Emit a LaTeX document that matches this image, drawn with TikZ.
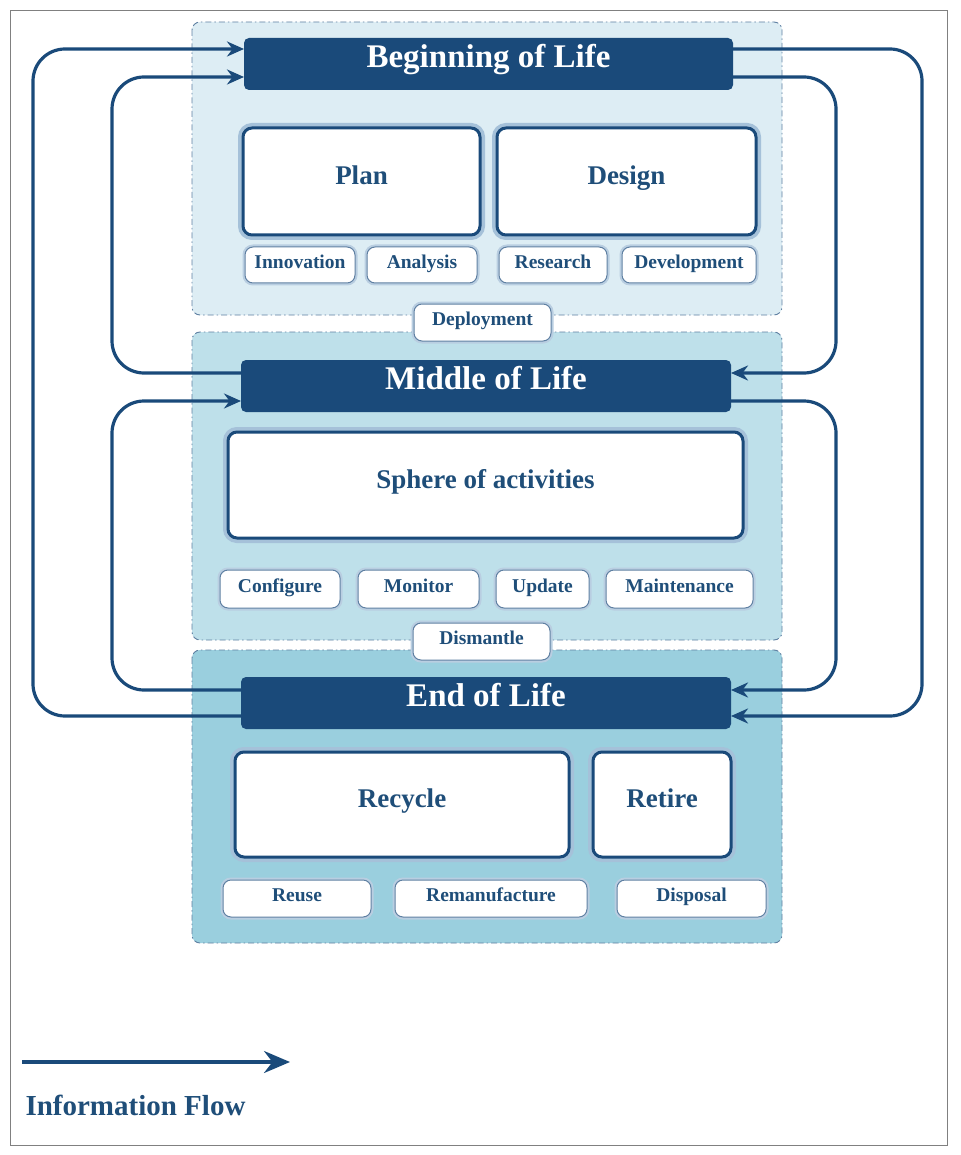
\documentclass[tikz,border=0pt]{standalone}
\usepackage{fontspec}
\setmainfont{Liberation Serif}
\usetikzlibrary{arrows.meta}
\definecolor{navy}{HTML}{1A4A7A}
\definecolor{txt}{HTML}{1F4E79}
\definecolor{bolc}{HTML}{DDEDF4}
\definecolor{molc}{HTML}{BEE0EA}
\definecolor{eolc}{HTML}{9ACFDE}
\definecolor{glow}{HTML}{7FA6C8}
\begin{document}
\begin{tikzpicture}[x=1pt,y=-1pt,
 panel/.style={draw=navy!70,dash pattern=on 6pt off 3pt on 1.5pt off 3pt,line width=0.9pt,rounded corners=8},
 bar/.style={fill=navy,rounded corners=5,text=white,font=\bfseries\fontsize{33}{36}\selectfont,text height=0.68em,text depth=0pt},
 box/.style={fill=white,rounded corners=9,text=txt,font=\bfseries\fontsize{27}{30}\selectfont,text height=0.68em,text depth=0pt,
   preaction={draw=glow!70,line width=10pt,rounded corners=9},draw=navy,line width=3pt},
 pill/.style={fill=white,rounded corners=8,text=txt,font=\bfseries\fontsize{19.5}{22}\selectfont,text height=0.68em,text depth=0pt,
   preaction={draw=glow!55,line width=5pt,rounded corners=8},draw=navy!70,line width=1pt},
 flow/.style={draw=navy,line width=3.2pt,rounded corners=32,-{Stealth[length=17pt,width=15pt]}}]
\useasboundingbox (0,0) rectangle (960,1155);
\fill[white] (0,0) rectangle (960,1155);
\draw[gray,line width=0.8pt] (10,10) rectangle (947,1145);
% panels
\path[panel,fill=bolc] (192,22) rectangle (782,315);
\path[panel,fill=molc] (192,332) rectangle (782,640);
\path[panel,fill=eolc] (192,650) rectangle (782,943);
% bars
\path[bar] (244,38) rectangle (733,90) node[midway] (bol) {Beginning of Life};
\path[bar] (241,360) rectangle (731,412) node[midway] (mol) {Middle of Life};
\path[bar] (241,677) rectangle (731,729) node[midway] (eol) {End of Life};
% boxes
\path[box] (243,128) rectangle (480,235) node[midway] (plan) {Plan};
\path[box] (497,128) rectangle (756,235) node[midway] (design) {Design};
\path[box] (228,432) rectangle (743,538) node[midway] (sphere) {Sphere of activities};
\path[box] (235,752) rectangle (569,857) node[midway] (recycle) {Recycle};
\path[box] (593,752) rectangle (731,857) node[midway] (retire) {Retire};
% pills
\path[pill] (245,247) rectangle (355,283) node[midway] (p1) {Innovation};
\path[pill] (367,247) rectangle (477,283) node[midway] (p2) {Analysis};
\path[pill] (499,247) rectangle (607,283) node[midway] (p3) {Research};
\path[pill] (622,247) rectangle (756,283) node[midway] (p4) {Development};
\path[pill] (414,304) rectangle (551,341) node[midway] (dep) {Deployment};
\path[pill] (220,570) rectangle (340,608) node[midway] (c1) {Configure};
\path[pill] (358,570) rectangle (479,608) node[midway] (c2) {Monitor};
\path[pill] (496,570) rectangle (589,608) node[midway] (c3) {Update};
\path[pill] (606,570) rectangle (753,608) node[midway] (c4) {Maintenance};
\path[pill] (413,623) rectangle (550,660) node[midway] (dis) {Dismantle};
\path[pill] (223,880) rectangle (371,917) node[midway] (r1) {Reuse};
\path[pill] (395,880) rectangle (587,917) node[midway] (r2) {Remanufacture};
\path[pill] (617,880) rectangle (766,917) node[midway] (r3) {Disposal};
% flows
\coordinate (bolL1) at (244,49); \coordinate (bolL2) at (244,77);
\coordinate (bolR1) at (733,49); \coordinate (bolR2) at (733,77);
\coordinate (molL1) at (241,373); \coordinate (molL2) at (241,401);
\coordinate (molR1) at (731,373); \coordinate (molR2) at (731,401);
\coordinate (eolL1) at (241,690); \coordinate (eolL2) at (241,716);
\coordinate (eolR1) at (731,690); \coordinate (eolR2) at (731,716);
\draw[flow] (eolL2) -| (33,400) |- (bolL1);
\draw[flow] (molL1) -| (112,200) |- (bolL2);
\draw[flow] (eolL1) -| (112,550) |- (molL2);
\draw[flow] (bolR1) -| (922,400) |- (eolR2);
\draw[flow] (bolR2) -| (836,200) |- (molR1);
\draw[flow] (molR2) -| (836,550) |- (eolR1);
% legend
\coordinate (lg1) at (22,1062); \coordinate (lg2) at (290,1062);
\draw[navy,line width=3.2pt,-{Stealth[length=26pt,width=22pt]}] (lg1) -- (lg2);
\node[anchor=west,text=txt,font=\bfseries\fontsize{29}{32}\selectfont] (leg) at (22,1105) {Information Flow};
\end{tikzpicture}
\end{document}
